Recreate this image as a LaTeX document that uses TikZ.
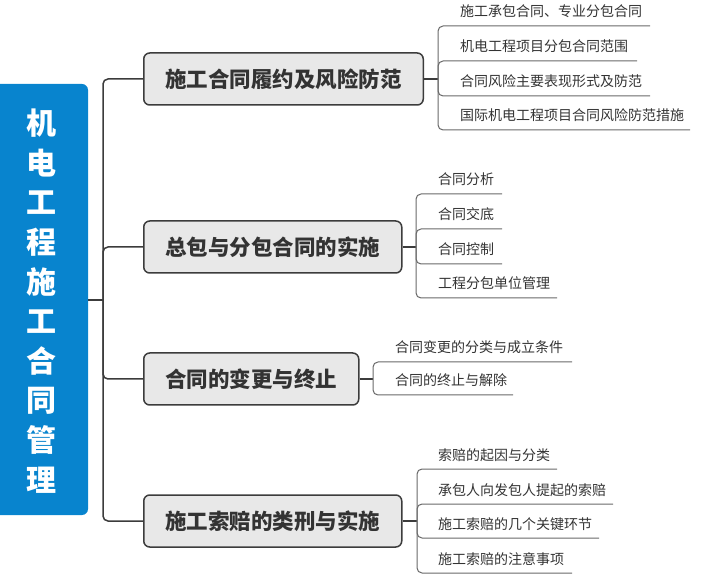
\documentclass[tikz,border=0pt]{standalone}
\usepackage{fontspec}
\newfontfamily\cjk{Noto Sans CJK SC}
\definecolor{rootblue}{RGB}{8,132,206}
\definecolor{mainline}{RGB}{60,60,60}
\definecolor{leafline}{RGB}{105,105,105}
\definecolor{boxfill}{RGB}{232,232,232}
\definecolor{txt}{RGB}{51,51,51}
\tikzset{
  branch/.style={draw=mainline, line width=1.5pt, fill=boxfill, rounded corners=6pt,
    minimum height=52pt, inner xsep=21.5pt, anchor=west, text=txt,
    font=\cjk\bfseries\fontsize{21.5pt}{24pt}\selectfont},
  leaf/.style={anchor=base west, inner sep=0pt, text=txt,
    font=\cjk\fontsize{14pt}{16pt}\selectfont},
  trunk/.style={draw=mainline, line width=1.5pt, rounded corners=5pt},
  leafln/.style={draw=leafline, line width=1pt, rounded corners=5pt},
}
\begin{document}
\begin{tikzpicture}[x=1pt,y=-1pt]
\useasboundingbox (0,0) rectangle (705,580);
% root
\fill[rootblue, rounded corners=6pt] (-8,84) rectangle (88,515);
\node[text=white, align=center, inner sep=0pt,
  font=\cjk\bfseries\fontsize{30pt}{39.6pt}\selectfont] (root) at (42,301)
  {机\\电\\工\\程\\施\\工\\合\\同\\管\\理};
\coordinate (rootc) at (88,300);
\coordinate (t) at (103,300);
% branches
\node[branch] (b1) at (143,79) {施工合同履约及风险防范};
\node[branch] (b2) at (143,247) {总包与分包合同的实施};
\node[branch] (b3) at (143,379) {合同的变更与终止};
\node[branch] (b4) at (143,521) {施工索赔的类刑与实施};
\draw[trunk] (rootc) -- (t);
\foreach \b in {b1,b2,b3,b4} \draw[trunk] (t) |- (\b.west);
% group 1
\coordinate (j1) at (438,79);
\draw[trunk, line width=1.2pt] (b1.east) -- (j1);
\node[leaf] (l11) at (460,17) {施工承包合同、专业分包合同};
\node[leaf] (l12) at (460,52) {机电工程项目分包合同范围};
\node[leaf] (l13) at (460,87) {合同风险主要表现形式及防范};
\node[leaf] (l14) at (460,121) {国际机电工程项目合同风险防范措施};
\coordinate (u11) at (650,26);
\coordinate (u12) at (637,61);
\coordinate (u13) at (650,96);
\coordinate (u14) at (690,130);
\foreach \u in {u11,u12,u13,u14} \draw[leafln] (j1) |- (\u);
% group 2
\coordinate (j2) at (416,247);
\draw[trunk, line width=1.2pt] (b2.east) -- (j2);
\node[leaf] (l21) at (438,185) {合同分析};
\node[leaf] (l22) at (438,220) {合同交底};
\node[leaf] (l23) at (438,255) {合同控制};
\node[leaf] (l24) at (438,289) {工程分包单位管理};
\coordinate (u21) at (502,194);
\coordinate (u22) at (502,229);
\coordinate (u23) at (502,264);
\coordinate (u24) at (557,298);
\foreach \u in {u21,u22,u23,u24} \draw[leafln] (j2) |- (\u);
% group 3
\coordinate (j3) at (373,379);
\draw[trunk, line width=1.2pt] (b3.east) -- (j3);
\node[leaf] (l31) at (395,353) {合同变更的分类与成立条件};
\node[leaf] (l32) at (395,386) {合同的终止与解除};
\coordinate (u31) at (572,362);
\coordinate (u32) at (513,395);
\foreach \u in {u31,u32} \draw[leafln] (j3) |- (\u);
% group 4
\coordinate (j4) at (417,521);
\draw[trunk, line width=1.2pt] (b4.east) -- (j4);
\node[leaf] (l41) at (438,460) {索赔的起因与分类};
\node[leaf] (l42) at (438,495) {承包人向发包人提起的索赔};
\node[leaf] (l43) at (438,529) {施工索赔的几个关键环节};
\node[leaf] (l44) at (438,564) {施工索赔的注意事项};
\coordinate (u41) at (557,469);
\coordinate (u42) at (613,504);
\coordinate (u43) at (599,538);
\coordinate (u44) at (572,573);
\foreach \u in {u41,u42,u43,u44} \draw[leafln] (j4) |- (\u);
\end{tikzpicture}
\end{document}
